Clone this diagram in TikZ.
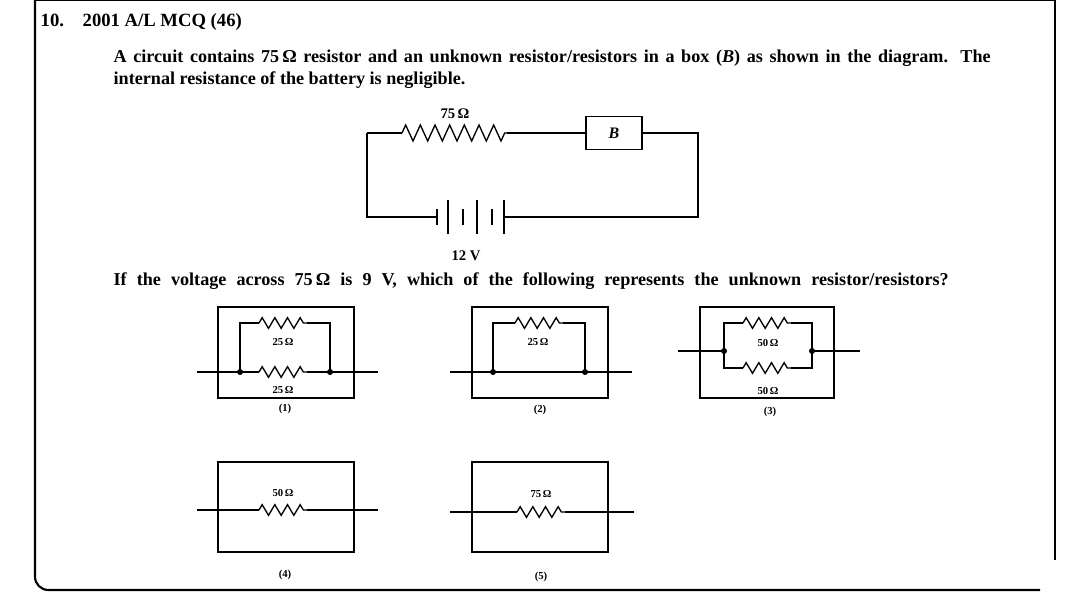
\documentclass[tikz,border=0pt]{standalone}
\usepackage{fontspec}
\setmainfont{Liberation Serif}
\usetikzlibrary{decorations.pathmorphing}
\begin{document}
\begin{tikzpicture}[x=0.75pt,y=-0.75pt,line width=1pt,
  res/.style={decorate,decoration={zigzag,segment length=9.5pt,amplitude=4pt}},
  resbig/.style={decorate,decoration={zigzag,segment length=11pt,amplitude=6pt}},
  lbl/.style={font=\bfseries\fontsize{8}{9}\selectfont,inner sep=0},
  num/.style={font=\bfseries\fontsize{8}{9}\selectfont,inner sep=0},
  txt/.style={font=\bfseries\fontsize{13.6}{15}\selectfont,anchor=west,inner sep=0},
  dot/.style={circle,fill,inner sep=1.6pt}]
\useasboundingbox (0,0) rectangle (1080,598);
% frame
\draw[line width=1.6pt] (35,0) -- (1055,0);
\draw[line width=1.6pt,rounded corners=10pt] (35,0) -- (35,590) -- (1040,590);
\draw[line width=1.6pt] (1055,0) -- (1055,560);
% text
\node[txt,font=\bfseries\fontsize{14}{16}\selectfont] (h) at (40,22) {10.\hspace{1em}2001 A/L MCQ (46)};
\node[txt] (p1) at (113,58) {\makebox[657.75pt][s]{A circuit contains 75\,Ω resistor and an unknown resistor/resistors in a box (\textit{B}) as shown in the diagram. The}};
\node[txt] (p2) at (113,80) {internal resistance of the battery is negligible.};
\node[txt] (q) at (113,281) {\makebox[626.25pt][s]{If the voltage across 75\,Ω is 9 V, which of the following represents the unknown resistor/resistors?}};
% main circuit
\coordinate (tl) at (367,133); \coordinate (tr) at (698,133);
\coordinate (bl) at (367,217); \coordinate (br) at (698,217);
\coordinate (r1) at (402,133); \coordinate (r2) at (507,133);
\node[draw,minimum width=42pt,minimum height=24.75pt,inner sep=0,font=\bfseries\itshape\fontsize{12}{13}\selectfont] (B) at (614,133) {B};
\draw (tl) -- (r1); \draw[resbig] (r1) -- (r2); \draw (r2) -- (B.west);
\draw (B.east) -- (tr) -- (br) -- (504,217);
\draw (437,217) -- (bl) -- (tl);
\foreach \x/\h in {437/8,448/17,463/8,477/17,492/8,504/17} \draw (\x,217-\h) -- (\x,217+\h);
\node[lbl,font=\bfseries\fontsize{11}{12}\selectfont] (r75) at (455,114) {75\,Ω};
\node[lbl,font=\bfseries\fontsize{11}{12}\selectfont] (v12) at (466,256) {12 V};
% option 1
\draw (218,307) rectangle (354,398);
\draw (197,372) -- (378,372);
\draw (240,372) -- (240,323) -- (259,323); \draw[res] (259,323) -- (307,323); \draw (307,323) -- (330,323) -- (330,372);
\draw[fill=white,draw=none] (259,368) rectangle (307,377);
\draw[res] (259,372) -- (307,372);
\node[dot] at (240,372) {}; \node[dot] at (330,372) {};
\node[lbl] at (283,342) {25\,Ω}; \node[lbl] at (283,390) {25\,Ω};
\node[num] at (285,409) {(1)};
% option 2
\draw (472,307) rectangle (608,398);
\draw (450,372) -- (632,372);
\draw (493,372) -- (493,323) -- (515,323); \draw[res] (515,323) -- (563,323); \draw (563,323) -- (585,323) -- (585,372);
\node[dot] at (493,372) {}; \node[dot] at (585,372) {};
\node[lbl] at (538,342) {25\,Ω};
\node[num] at (540,410) {(2)};
% option 3
\draw (700,307) rectangle (834,398);
\draw (678,351) -- (724,351); \draw (812,351) -- (860,351);
\draw (724,351) -- (724,323) -- (743,323); \draw[res] (743,323) -- (791,323); \draw (791,323) -- (812,323) -- (812,351);
\draw (724,351) -- (724,368) -- (743,368); \draw[res] (743,368) -- (791,368); \draw (791,368) -- (812,368) -- (812,351);
\node[dot] at (724,351) {}; \node[dot] at (812,351) {};
\node[lbl] at (768,343) {50\,Ω}; \node[lbl] at (768,391) {50\,Ω};
\node[num] at (770,412) {(3)};
% option 4
\draw (218,462) rectangle (354,552);
\draw (197,510) -- (259,510); \draw[res] (259,510) -- (307,510); \draw (307,510) -- (378,510);
\node[lbl] at (283,493) {50\,Ω};
\node[num] at (285,575) {(4)};
% option 5
\draw (472,462) rectangle (608,552);
\draw (450,512) -- (517,512); \draw[res] (517,512) -- (565,512); \draw (565,512) -- (634,512);
\node[lbl] at (541,494) {75\,Ω};
\node[num] at (541,577) {(5)};
\end{tikzpicture}
\end{document}
